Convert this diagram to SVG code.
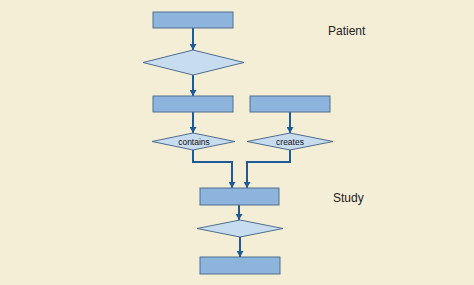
<svg xmlns="http://www.w3.org/2000/svg" width="474" height="285" viewBox="0 0 474 285">
<style>
.bg{fill:#f5eed7}
.box{fill:#8db4dc;stroke:#4f6e8e;stroke-width:1}
.dia{fill:#c8dcf0;stroke:#4e6e8e;stroke-width:1}
.con{fill:none;stroke:#1d5a96;stroke-width:2}
.lbl{font-family:"Liberation Sans",Arial,sans-serif;font-size:12px;fill:#222}
.dl{font-family:"Liberation Sans",Arial,sans-serif;font-size:8.5px;fill:#111;text-anchor:middle}
</style>
<defs>
<marker id="ah" markerWidth="6" markerHeight="7" refX="6" refY="3.5" orient="auto" markerUnits="userSpaceOnUse">
<path d="M0,0 L6,3.5 L0,7 Z" fill="#1d5a96"/>
</marker>
</defs>
<rect class="bg" x="0" y="0" width="474" height="285"/>
<g id="connectors">
<path class="con" d="M193,28 V50" marker-end="url(#ah)"/>
<path class="con" d="M193,75 V96" marker-end="url(#ah)"/>
<path class="con" d="M193,112 V133" marker-end="url(#ah)"/>
<path class="con" d="M290,112 V133" marker-end="url(#ah)"/>
<path class="con" d="M193,150 V162 H232 V188" marker-end="url(#ah)"/>
<path class="con" d="M290,150 V162 H247 V188" marker-end="url(#ah)"/>
<path class="con" d="M239,205 V220" marker-end="url(#ah)"/>
<path class="con" d="M240,237 V257" marker-end="url(#ah)"/>
</g>
<g id="n1"><rect class="box" x="153" y="12" width="80" height="16"/></g>
<g id="n2"><polygon class="dia" points="143,62.5 193,50 244,62.5 193,75"/></g>
<g id="n3"><rect class="box" x="153" y="96" width="80" height="16"/></g>
<g id="n4"><rect class="box" x="250" y="96" width="80" height="16"/></g>
<g id="n5"><polygon class="dia" points="152,141.5 193,133 235,141.5 193,150"/><text class="dl" x="194" y="144.5">contains</text></g>
<g id="n6"><polygon class="dia" points="247,141.5 290,133 333,141.5 290,150"/><text class="dl" x="290" y="144.5">creates</text></g>
<g id="n7"><rect class="box" x="200" y="188" width="79" height="17"/></g>
<g id="n8"><polygon class="dia" points="197,228.5 240,220 283,228.5 240,237"/></g>
<g id="n9"><rect class="box" x="200" y="257" width="80" height="17"/></g>
<g id="l1"><text class="lbl" x="328" y="35">Patient</text></g>
<g id="l2"><text class="lbl" x="333" y="202">Study</text></g>
</svg>
